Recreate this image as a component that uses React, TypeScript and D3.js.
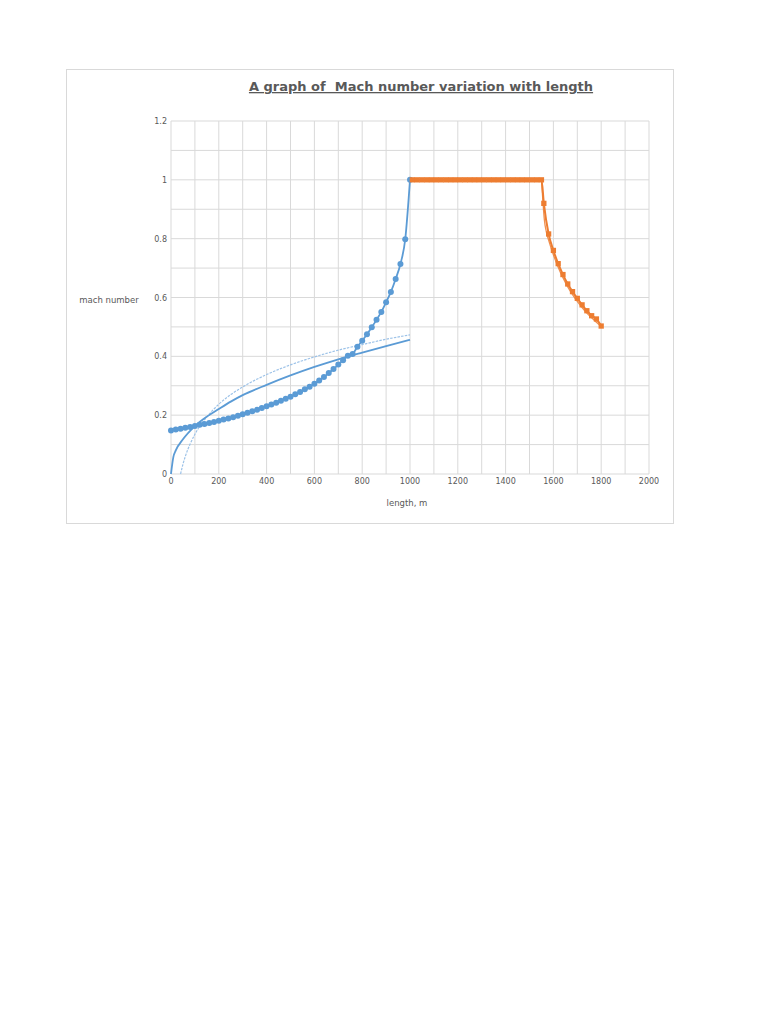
import * as d3 from "d3";

// blue series with markers (length, m -> mach number)
const blueX = [
  0, 20, 40, 60, 80, 100, 120, 140, 160, 180, 200, 220, 240, 260, 280, 300, 320, 340, 360, 380,
  400, 420, 440, 460, 480, 500, 520, 540, 560, 580, 600, 620, 640, 660, 680, 700, 720, 740, 760,
  780, 800, 820, 840, 860, 880, 900, 920, 940, 960, 980, 1000,
];
const blueY = [
  0.148, 0.151, 0.154, 0.157, 0.16, 0.163, 0.167, 0.17, 0.173, 0.177, 0.181, 0.185, 0.189, 0.193,
  0.198, 0.203, 0.208, 0.213, 0.218, 0.224, 0.23, 0.236, 0.242, 0.249, 0.256, 0.263, 0.271, 0.279,
  0.288, 0.297, 0.307, 0.318, 0.33, 0.343, 0.357, 0.372, 0.387, 0.402, 0.408, 0.433, 0.453, 0.475,
  0.499, 0.524, 0.551, 0.584, 0.619, 0.663, 0.714, 0.798, 1.0,
];

// solid blue trend curve
const trendSolidX = [0, 10, 20, 50, 100, 150, 200, 250, 300, 400, 500, 600, 700, 800, 900, 1000];
const trendSolidY = [0, 0.058, 0.08, 0.118, 0.163, 0.195, 0.221, 0.246, 0.268, 0.303, 0.335, 0.364, 0.39, 0.413, 0.435, 0.456];

// dashed light blue trend curve
const trendDashX = [40, 50, 60, 80, 100, 150, 200, 250, 300, 400, 500, 600, 700, 800, 900, 1000];
const trendDashY = [0, 0.033, 0.06, 0.102, 0.135, 0.194, 0.237, 0.27, 0.296, 0.338, 0.371, 0.398, 0.421, 0.44, 0.458, 0.473];

// orange series with markers
const orangeX = [
  1010, 1030, 1050, 1070, 1090, 1110, 1130, 1150, 1170, 1190, 1210, 1230, 1250, 1270, 1290, 1310,
  1330, 1350, 1370, 1390, 1410, 1430, 1450, 1470, 1490, 1510, 1530, 1550, 1560, 1580, 1600, 1620,
  1640, 1660, 1680, 1700, 1720, 1740, 1760, 1780, 1800,
];
const orangeY = [
  1, 1, 1, 1, 1, 1, 1, 1, 1, 1, 1, 1, 1, 1, 1, 1, 1, 1, 1, 1, 1, 1, 1, 1, 1, 1, 1, 1, 0.92, 0.816,
  0.76, 0.715, 0.678, 0.646, 0.62, 0.597, 0.575, 0.555, 0.538, 0.527, 0.503,
];

// thin orange curve beside the markers
const orangeTrendX = [1550, 1556, 1562, 1570, 1580, 1600, 1620, 1640, 1660, 1680, 1700, 1720, 1740, 1760, 1780, 1800];
const orangeTrendY = [1, 0.93, 0.865, 0.825, 0.795, 0.745, 0.703, 0.667, 0.636, 0.61, 0.587, 0.566, 0.547, 0.531, 0.516, 0.502];

const xTicks = [0, 200, 400, 600, 800, 1000, 1200, 1400, 1600, 1800, 2000];
const yTicks = [0, 0.2, 0.4, 0.6, 0.8, 1, 1.2];

const BLUE = "#5B9BD5";
const ORANGE = "#ED7D31";
const GRID = "#d9d9d9";
const TEXT = "#595959";
const FONT = "DejaVu Sans, Verdana, sans-serif";

export default function App() {
  const x = d3.scaleLinear().domain([0, 2000]).range([171, 649]);
  const y = d3.scaleLinear().domain([0, 1.2]).range([474, 121]);

  const zip = (xs: number[], ys: number[]) => xs.map((v, i) => [v, ys[i]] as [number, number]);
  const line = d3
    .line<[number, number]>()
    .x((d) => x(d[0]))
    .y((d) => y(d[1]))
    .curve(d3.curveMonotoneX);

  const blue = zip(blueX, blueY);
  const orange = zip(orangeX, orangeY);
  const square = d3.symbol().type(d3.symbolSquare).size(28)();

  const gridX = d3.range(0, 2001, 100);
  const gridY = d3.range(0, 13).map((i) => i / 10);

  return (
    <svg
      width={768}
      height={1024}
      style={{ position: "absolute", left: 0, top: 0, background: "#fff" }}
      fontFamily={FONT}
    >
      <rect x={66.5} y={69.5} width={607} height={454} fill="#fff" stroke={GRID} />

      <text
        x={421}
        y={91}
        textAnchor="middle"
        fontSize={13}
        fontWeight="bold"
        fill={TEXT}
        textDecoration="underline"
        style={{ whiteSpace: "pre" }}
      >
        {"A graph of  Mach number variation with length"}
      </text>

      {gridX.map((v) => (
        <line key={"gx" + v} x1={x(v)} x2={x(v)} y1={y(1.2)} y2={y(0)} stroke={GRID} strokeWidth={1} />
      ))}
      {gridY.map((v) => (
        <line key={"gy" + v} x1={x(0)} x2={x(2000)} y1={y(v)} y2={y(v)} stroke={GRID} strokeWidth={1} />
      ))}

      {yTicks.map((v) => (
        <text key={"yt" + v} x={167} y={y(v) + 3} textAnchor="end" fontSize={8} fill={TEXT}>
          {v}
        </text>
      ))}
      {xTicks.map((v) => (
        <text key={"xt" + v} x={x(v)} y={484} textAnchor="middle" fontSize={8} fill={TEXT}>
          {v}
        </text>
      ))}

      <text x={109} y={303} textAnchor="middle" fontSize={8.5} fill={TEXT}>
        mach number
      </text>
      <text x={407} y={506} textAnchor="middle" fontSize={8.5} fill={TEXT}>
        length, m
      </text>

      {/* trend curves */}
      <path
        d={line(zip(trendDashX, trendDashY)) || ""}
        fill="none"
        stroke="#9cc2e8"
        strokeWidth={1.2}
        strokeDasharray="2.5,1.2"
      />
      <path d={line(zip(trendSolidX, trendSolidY)) || ""} fill="none" stroke={BLUE} strokeWidth={1.8} />

      {/* blue data series */}
      <path d={line(blue) || ""} fill="none" stroke={BLUE} strokeWidth={1.8} />
      {blue.map((d, i) => (
        <circle key={"bm" + i} cx={x(d[0])} cy={y(d[1])} r={3} fill={BLUE} />
      ))}

      {/* orange series */}
      <path d={line(zip(orangeTrendX, orangeTrendY)) || ""} fill="none" stroke={ORANGE} strokeWidth={1.3} opacity={0.85} />
      <path d={line(orange) || ""} fill="none" stroke={ORANGE} strokeWidth={2} />
      {orange.map((d, i) => (
        <path key={"om" + i} d={square || ""} transform={`translate(${x(d[0])},${y(d[1])})`} fill={ORANGE} />
      ))}
    </svg>
  );
}
